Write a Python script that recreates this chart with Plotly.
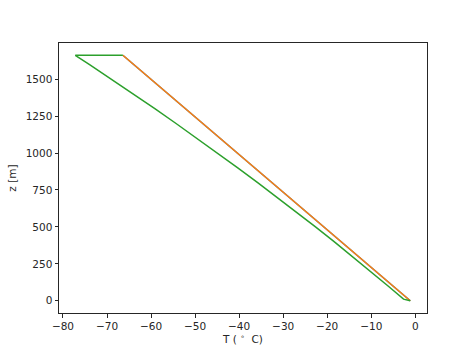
import plotly.graph_objects as go

# Series 1 (blue, hidden under orange) and series 2 (orange): straight profile
t_blue = [-66.4, -1.14]
z_blue = [1662, 0]
t_orange = [-66.4, -1.14]
z_orange = [1662, 0]

# Series 3 (green): curved profile
t_green = [-1.14, -2.67, -6.18, -10.19, -14.27, -18.43, -22.66, -26.96, -31.34,
           -35.79, -40.31, -44.91, -49.58, -54.32, -59.14, -64.03, -69.00, -74.04,
           -77.2, -66.4]
z_green = [0, 11, 100, 200, 300, 400, 500, 600, 700,
           800, 900, 1000, 1100, 1200, 1300, 1400, 1500, 1600,
           1662, 1662]

x_ticks = [-80, -70, -60, -50, -40, -30, -20, -10, 0]
y_ticks = [0, 250, 500, 750, 1000, 1250, 1500]

fig = go.Figure()
fig.add_trace(go.Scatter(x=t_blue, y=z_blue, mode="lines",
                         line=dict(color="#1f77b4", width=1.5)))
fig.add_trace(go.Scatter(x=t_orange, y=z_orange, mode="lines",
                         line=dict(color="#ff7f0e", width=1.5)))
fig.add_trace(go.Scatter(x=t_green, y=z_green, mode="lines",
                         line=dict(color="#2ca02c", width=1.5)))

axis_common = dict(showgrid=False, zeroline=False, showline=True, mirror=True,
                   linecolor="#262626", linewidth=1, ticks="outside", ticklen=3.5,
                   tickwidth=1, tickcolor="#262626",
                   tickfont=dict(family="DejaVu Sans", size=10.5, color="#262626"))

fig.update_layout(
    width=474, height=355,
    margin=dict(l=59, r=47, t=43, b=39),
    paper_bgcolor="white", plot_bgcolor="white",
    showlegend=False,
    font=dict(family="DejaVu Sans", size=10.5, color="#262626"),
    xaxis=dict(range=[-80.9, 2.66], tickvals=x_ticks,
               ticktext=["\u221280", "\u221270", "\u221260", "\u221250", "\u221240",
                         "\u221230", "\u221220", "\u221210", "0"],
               title=dict(text="T ( <sup>\u2218</sup>  C)", standoff=4,
                          font=dict(family="DejaVu Sans", size=10.5, color="#262626")),
               **axis_common),
    yaxis=dict(range=[-83, 1745], tickvals=y_ticks,
               title=dict(text="z [m]", standoff=6,
                          font=dict(family="DejaVu Sans", size=10.5, color="#262626")),
               **axis_common),
)

fig.write_html("out.html")
